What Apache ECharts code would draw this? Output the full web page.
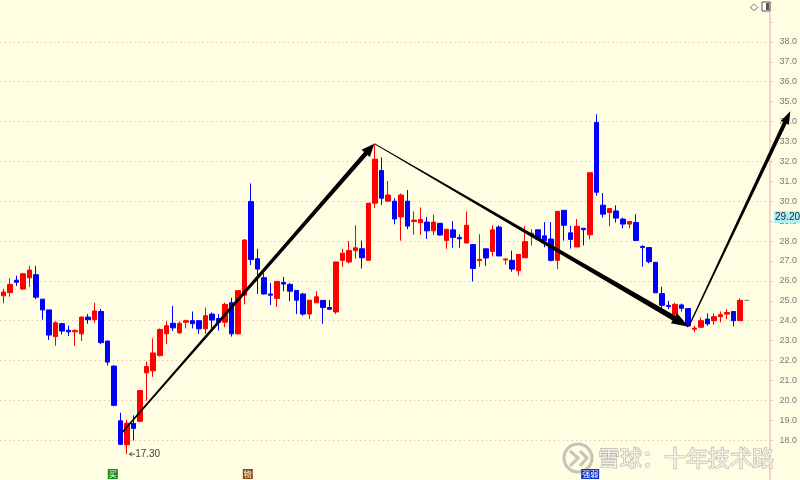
<!DOCTYPE html>
<html><head><meta charset="utf-8">
<script src="https://cdn.jsdelivr.net/npm/echarts@6/dist/echarts.min.js"></script>
<style>html,body{margin:0;padding:0;background:#FFFDE2;} #c{width:800px;height:480px;}</style>
</head><body><div id="c"></div>
<script>
// ---- data ----
const opens  = [25.25,25.41,26.03,25.59,26.15,26.31,25.08,24.54,23.2,23.85,23.52,23.44,23.34,24.18,24.05,24.46,22.98,21.72,18.97,17.77,18.84,18.95,21.38,21.48,22.25,23.34,23.87,23.39,23.92,24.0,24.0,23.59,24.33,24.11,23.92,24.9,23.34,25.28,29.98,27.11,26.16,25.34,25.11,25.92,25.82,25.52,25.34,24.33,24.9,25.02,24.66,24.44,27.03,26.95,27.52,27.61,27.03,29.9,31.54,30.0,30.0,29.21,30.0,28.98,28.92,28.95,28.51,28.89,28.02,28.56,28.18,27.9,27.82,27.02,27.61,27.48,28.7,27.05,27.03,26.51,27.16,28.33,28.56,28.26,28.1,27.03,29.54,28.41,27.7,28.64,28.31,33.95,29.8,29.43,29.51,29.1,28.85,28.93,27.73,27.67,26.93,25.36,24.77,24.33,24.79,24.61,23.57,23.67,24.08,24.0,24.2,24.33,24.46,24.0];
const closes = [25.44,25.82,25.93,26.36,26.54,25.18,24.54,23.28,23.89,23.48,23.44,23.51,24.18,24.05,24.49,22.9,21.92,19.75,17.79,18.85,18.59,20.49,21.7,22.38,23.56,23.75,23.64,23.87,24.0,23.85,23.59,24.25,24.03,23.92,24.82,23.34,25.51,28.05,27.07,26.59,25.34,25.28,25.97,25.84,25.48,25.03,24.33,25.03,25.2,24.66,24.57,26.95,27.39,27.52,27.66,27.16,29.9,32.11,30.15,30.31,29.11,30.31,28.75,29.05,29.08,28.51,28.95,28.3,28.59,28.18,28.11,28.79,26.62,27.08,27.15,28.56,27.25,27.1,26.59,27.33,27.97,28.39,28.1,28.02,27.03,29.49,28.79,28.08,28.74,28.57,31.43,30.45,29.35,29.63,29.15,28.85,28.98,28.03,27.67,26.96,25.4,24.77,24.71,24.82,24.62,23.75,23.63,24.0,23.84,24.2,24.3,24.41,24.0,25.02];
const lows   = [24.87,25.2,25.74,25.55,25.69,25.08,24.05,23.03,22.74,23.31,23.23,22.74,22.98,23.84,23.89,22.82,21.75,19.7,17.75,17.30,17.98,18.9,19.98,21.18,22.2,22.82,23.48,23.34,23.61,23.61,23.34,23.34,23.59,23.51,23.67,23.2,23.3,24.82,26.79,25.34,25.31,24.79,24.69,25.48,24.98,24.33,24.25,24.08,24.9,23.84,24.57,24.33,26.7,26.87,27.11,26.62,27.0,29.66,29.82,29.98,28.84,28.02,28.59,28.31,28.31,28.1,28.3,28.28,27.61,27.66,27.66,27.9,25.97,26.7,26.75,27.23,27.25,26.82,26.46,26.26,27.16,27.77,28.05,27.69,26.98,26.59,28.02,27.62,27.7,27.78,28.08,30.28,29.18,28.74,28.93,28.64,28.64,28.03,26.71,26.88,25.4,24.58,24.58,24.25,24.46,23.67,23.42,23.67,23.75,23.8,23.92,24.08,23.72,24.0];
const highs  = [25.6,26.13,26.26,26.4,26.75,26.75,25.08,24.54,23.97,23.89,23.75,23.56,24.21,24.33,24.9,24.59,22.98,21.75,19.38,19.02,19.25,20.5,21.95,23.11,23.61,23.97,24.74,23.97,24.05,24.46,24.0,24.66,24.41,24.33,24.9,25.15,25.51,28.1,30.89,27.61,26.38,25.89,26.0,26.2,25.89,25.52,25.39,25.03,25.48,25.02,25.03,26.95,27.61,28.0,28.79,28.02,29.9,32.85,32.2,31.02,30.15,30.39,30.56,29.49,29.69,29.21,29.33,28.9,28.6,29.0,28.34,29.49,27.82,28.34,27.61,28.79,28.79,27.1,27.52,27.33,28.75,28.59,28.56,28.95,28.95,29.49,29.54,28.77,29.1,28.64,31.43,34.36,30.41,29.63,29.79,29.18,28.98,29.35,27.78,27.7,26.93,25.7,24.99,24.9,24.86,24.61,23.75,24.16,24.36,24.36,24.46,24.58,24.46,25.12];
const emptySlots = 4;             // blank days at the right of the last candle
const priceMin = 16, priceMax = 40;
const labelMin = 18, labelMax = 38;
const labelStep = 1, gridStep = 2;
// trend arrows: [day index, price]
const trendPoints = [[18.3, 18.41], [56.9, 32.89], [105.1, 23.70], [120.7, 34.52]];
const lowIndex = 19, lowText = '17.30';
const cursorPrice = '29.20';
const watermark = '雪球：十年技术路';
// signal markers under the candles: [day index, text]
const signalIdx = [16.8, 37.5, 90];
const signalText = ['买', '物', '强弱'];
// ---------------------------------------

const n = opens.length;
const days = [];
for (let i = 0; i < n + emptySlots; i++) days.push(String(i + 1));
const kData = opens.map((o, i) => [o, closes[i], lows[i], highs[i]]);

const chart = echarts.init(document.getElementById('c'), null, {renderer: 'canvas'});
chart.setOption({
  animation: false,
  backgroundColor: '#FFFDE2',
  grid: {left: -2, right: 26, top: 2.04, bottom: -9.62},
  xAxis: {type: 'category', data: days, boundaryGap: true,
    axisLine: {show: false}, axisTick: {show: false}, axisLabel: {show: false}, splitLine: {show: false}},
  yAxis: [
    {type: 'value', position: 'right', min: priceMin, max: priceMax, interval: labelStep,
      axisLine: {show: true, lineStyle: {color: '#F6C4C4', width: 1.5}},
      axisTick: {show: true, length: 3, lineStyle: {color: '#F0B8B8'}},
      axisLabel: {margin: 10, color: '#7a7a7a', fontSize: 9, fontFamily: 'Liberation Sans',
        formatter: v => (v >= labelMin && v <= labelMax) ? v.toFixed(1) : ''},
      splitLine: {show: false}},
    {type: 'value', position: 'right', min: priceMin, max: priceMax, interval: gridStep,
      axisLine: {show: false}, axisTick: {show: false}, axisLabel: {show: false},
      splitLine: {show: true, showMinLine: false, showMaxLine: false,
        lineStyle: {color: '#EDC4B6', type: [1.5, 3], width: 1}}}
  ],
  series: [{
    type: 'candlestick', data: kData, barWidth: 5, yAxisIndex: 0,
    itemStyle: {color: '#FF0000', color0: '#0000FF', borderColor: '#FF0000', borderColor0: '#0000FF', borderWidth: 1}
  }]
});

// ---- annotations placed through the chart's own scales ----
const px0 = chart.convertToPixel({xAxisIndex: 0}, 0);
const px1 = chart.convertToPixel({xAxisIndex: 0}, n + emptySlots - 1);
const band = (px1 - px0) / (n + emptySlots - 1);
const toPx = (idx, price) => [px0 + idx * band, chart.convertToPixel({yAxisIndex: 0}, price)];

function arrowPoly(p0, p1, w0, w1, hl, hw) {
  const dx = p1[0] - p0[0], dy = p1[1] - p0[1], L = Math.hypot(dx, dy);
  const ux = dx / L, uy = dy / L, nx = -uy, ny = ux;
  const b = [p1[0] - ux * hl, p1[1] - uy * hl];
  return [
    [p0[0] + nx * w0 / 2, p0[1] + ny * w0 / 2],
    [b[0] + nx * w1 / 2, b[1] + ny * w1 / 2],
    [b[0] + nx * hw / 2, b[1] + ny * hw / 2],
    [p1[0], p1[1]],
    [b[0] - nx * hw / 2, b[1] - ny * hw / 2],
    [b[0] - nx * w1 / 2, b[1] - ny * w1 / 2],
    [p0[0] - nx * w0 / 2, p0[1] - ny * w0 / 2]
  ];
}
const P = trendPoints.map(p => toPx(p[0], p[1]));
const arrowStyle = [[1.5, 4.5, 13, 11], [1, 5.5, 17, 12], [1.2, 4, 13, 9]];
const graphics = [];
for (let k = 0; k < 3; k++) {
  const s = arrowStyle[k];
  graphics.push({type: 'polygon', z: 50, shape: {points: arrowPoly(P[k], P[k + 1], s[0], s[1], s[2], s[3])},
    style: {fill: '#000'}});
}
// low price tag
const lowPt = toPx(lowIndex, lows[lowIndex]);
graphics.push({type: 'line', z: 50, shape: {x1: lowPt[0] + 2, y1: lowPt[1], x2: lowPt[0] + 8, y2: lowPt[1]}, style: {stroke: '#555', lineWidth: 1}});
graphics.push({type: 'polyline', z: 50, shape: {points: [[lowPt[0] + 5, lowPt[1] - 2], [lowPt[0] + 2, lowPt[1]], [lowPt[0] + 5, lowPt[1] + 2]]}, style: {stroke: '#555', fill: null, lineWidth: 1}});
graphics.push({type: 'text', z: 50, x: lowPt[0] + 8, y: lowPt[1], style: {text: lowText, fill: '#444', font: '10px Liberation Sans', verticalAlign: 'middle'}});
// last price dash
const lastPt = toPx(n, closes[n - 1]);
graphics.push({type: 'line', z: 50, shape: {x1: lastPt[0] - 2, y1: lastPt[1], x2: lastPt[0] + 2, y2: lastPt[1]}, style: {stroke: '#666', lineWidth: 1}});
// cursor price tag on axis
const cy = chart.convertToPixel({yAxisIndex: 0}, parseFloat(cursorPrice));
graphics.push({type: 'rect', z: 60, shape: {x: 774, y: cy - 6, width: 27, height: 12}, style: {fill: '#AEEEF0'}});
graphics.push({type: 'text', z: 61, x: 775, y: cy, style: {text: cursorPrice, fill: '#224', font: '10px Liberation Sans', verticalAlign: 'middle'}});
// bottom signal boxes
const sigColors = [['#1a8a1a', '#fff'], ['#8a4a10', '#fff'], ['#1030c0', '#fff']];
signalIdx.forEach((idx, k) => {
  const x = toPx(idx, 20)[0];
  const t = signalText[k];
  const w = t.length * 8 + 2;
  graphics.push({type: 'rect', z: 55, shape: {x: x - w / 2, y: 469, width: w, height: 10}, style: {fill: sigColors[k][0]}});
  graphics.push({type: 'text', z: 56, x: x, y: 474, style: {text: t, fill: sigColors[k][1], font: '8px "Noto Sans CJK SC"', align: 'center', verticalAlign: 'middle'}});
});
// watermark
graphics.push({type: 'circle', z: 40, shape: {cx: 578, cy: 458, r: 14}, style: {fill: null, stroke: '#c4c4bb', lineWidth: 3}});
graphics.push({type: 'polyline', z: 40, shape: {points: [[570, 451], [578, 458], [570, 466]]}, style: {fill: null, stroke: '#c4c4bb', lineWidth: 3}});
graphics.push({type: 'polyline', z: 40, shape: {points: [[580, 451], [587, 458], [580, 466]]}, style: {fill: null, stroke: '#c4c4bb', lineWidth: 3}});
graphics.push({type: 'text', z: 40, x: 598, y: 458, style: {text: watermark, fill: '#f3f3e6', stroke: '#b4b4ab', lineWidth: 1.2, font: '22px "Noto Sans CJK SC"', verticalAlign: 'middle'}});
// top-right icons
graphics.push({type: 'text', z: 40, x: 754, y: 7, style: {text: '◇', fill: '#555', font: '10px DejaVu Sans', align: 'center', verticalAlign: 'middle'}});
graphics.push({type: 'rect', z: 40, shape: {x: 762, y: 2, width: 8, height: 9}, style: {fill: '#fff', stroke: '#555', lineWidth: 1}});
graphics.push({type: 'rect', z: 41, shape: {x: 766, y: 3, width: 3, height: 7}, style: {fill: '#555'}});
chart.setOption({graphic: graphics});
</script>
</body></html>
